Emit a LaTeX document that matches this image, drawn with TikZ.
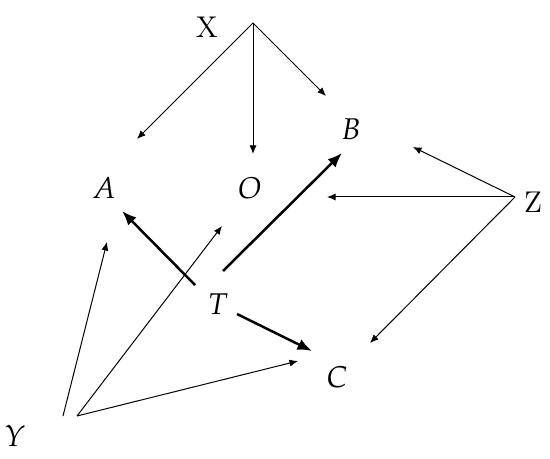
\documentclass[tikz,border=0pt]{standalone}
\usepackage{mathpazo}
\usetikzlibrary{arrows.meta}
\begin{document}
\begin{tikzpicture}[x=0.4pt,y=-0.4pt,font=\fontsize{12}{15}\selectfont]
\tikzset{
  thin arrow/.style={-{Latex[length=3.4pt,width=2.8pt]}, line width=0.4pt},
  thick arrow/.style={-{Latex[length=5.8pt,width=4.6pt]}, line width=1pt},
}
\useasboundingbox (0,0) rectangle (550,458);

% labels
\node (x) at (207,27) {X};
\node (a) at (104,188) {$A$};
\node (o) at (250,188) {$O$};
\node (b) at (351,129) {$B$};
\node (z) at (533,202) {Z};
\node (t) at (218,304) {$T$};
\node (c) at (337,377) {$C$};
\node (y) at (15,436) {$Y$};

% arrow ends
\coordinate (x0) at (253,23);
\coordinate (z0) at (515,197);
\coordinate (y1) at (63,416);
\coordinate (y0) at (77,416);

\draw[thin arrow] (x0) -- (137,139) coordinate (xa);
\draw[thin arrow] (x0) -- (253,154) coordinate (xo);
\draw[thin arrow] (x0) -- (326,96) coordinate (xb);

\draw[thin arrow] (z0) -- (413,147) coordinate (zb);
\draw[thin arrow] (z0) -- (327,197) coordinate (zo);
\draw[thin arrow] (z0) -- (370,343) coordinate (zc);

\draw[thin arrow] (y1) -- (107,242) coordinate (ya);
\draw[thin arrow] (y0) -- (222,226) coordinate (yo);
\draw[thin arrow] (y0) -- (298,361) coordinate (yc);

\draw[thick arrow] (195,285) coordinate (ta0) -- (122,211) coordinate (ta);
\draw[thick arrow] (223,271) coordinate (tb0) -- (342,153) coordinate (tb);
\draw[thick arrow] (237,314) coordinate (tc0) -- (312,351) coordinate (tc);

\end{tikzpicture}
\end{document}
